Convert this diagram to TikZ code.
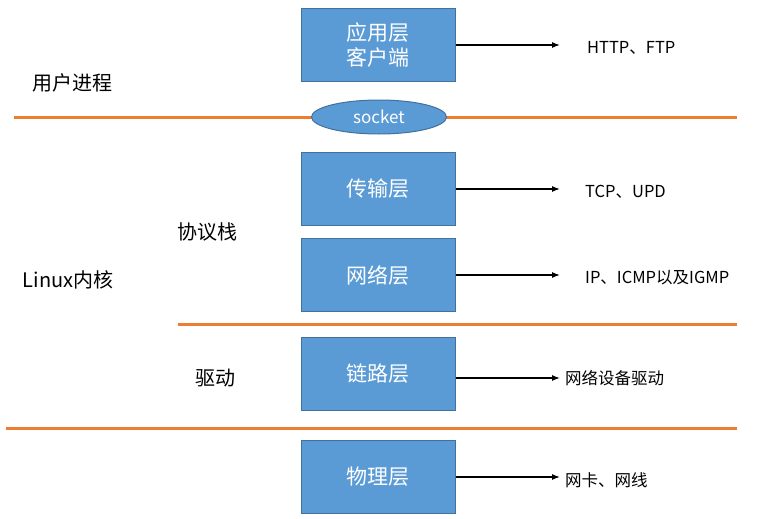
\documentclass[tikz,border=0pt]{standalone}
\usepackage{fontspec}
\setmainfont{Noto Sans CJK SC}[BoldFont={Noto Sans CJK SC Bold}]
\usetikzlibrary{shapes.geometric,arrows.meta}
\definecolor{boxfill}{HTML}{5B9BD5}
\definecolor{boxline}{HTML}{41719C}
\definecolor{orangeline}{HTML}{ED7D31}
\tikzset{
  layer/.style={draw=boxline,line width=1pt,fill=boxfill,minimum width=154pt,minimum height=73pt,text=white,font=\fontsize{21}{25}\selectfont,align=center,inner sep=0pt},
  sep/.style={orangeline,line width=3pt},
  arr/.style={-{Latex[length=8pt,width=6pt]},line width=1.2pt},
  lbl/.style={anchor=west,font=\fontsize{16.5}{19}\selectfont,inner sep=0pt},
  side/.style={font=\fontsize{20}{24}\selectfont,inner sep=0pt}
}
\begin{document}
\begin{tikzpicture}[x=1pt,y=-1pt]
\useasboundingbox (0,0) rectangle (766,519);
\draw[sep] (14,117) -- (737,117);
\draw[sep] (178,324) -- (737,324);
\draw[sep] (6,428) -- (737,428);
\node[layer] (app) at (378,45) {应用层\\客户端};
\node[ellipse,draw=boxline,line width=1pt,fill=boxfill,minimum width=135pt,minimum height=34pt,inner sep=0pt,text=white,font=\fontsize{17}{20}\selectfont] (sock) at (379,117) {socket};
\node[layer] (tr) at (378,189) {传输层};
\node[layer] (net) at (378,275) {网络层};
\node[layer] (link) at (378,374) {链路层};
\node[layer] (phy) at (378,477) {物理层};
\coordinate (a1) at (560,45);
\coordinate (a2) at (560,189);
\coordinate (a3) at (560,275);
\coordinate (a4) at (560,378);
\coordinate (a5) at (560,477);
\draw[arr] (app.east) -- (a1);
\draw[arr] (tr.east) -- (a2);
\draw[arr] (net.east) -- (a3);
\draw[arr] (link.east |- a4) -- (a4);
\draw[arr] (phy.east) -- (a5);
\node[lbl] (l1) at (587,48) {HTTP、FTP};
\node[lbl] (l2) at (585,192) {TCP、UPD};
\node[lbl] (l3) at (585,278) {IP、ICMP以及IGMP};
\node[lbl] (l4) at (565,378) {网络设备驱动};
\node[lbl] (l5) at (565,480) {网卡、网线};
\node[side] (s1) at (72,83) {用户进程};
\node[side] (s2) at (207,232) {协议栈};
\node[side] (s3) at (68,280) {Linux内核};
\node[side] (s4) at (215,378) {驱动};
\end{tikzpicture}
\end{document}
